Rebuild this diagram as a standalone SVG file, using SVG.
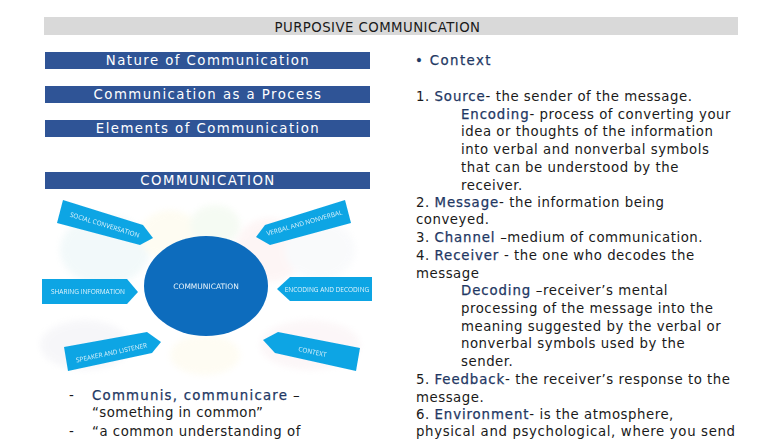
<svg xmlns="http://www.w3.org/2000/svg" width="784" height="441" viewBox="0 0 784 441">
<style>
text{font-family:"DejaVu Sans",Verdana,sans-serif;font-size:13.3px;fill:#1a1a1a;letter-spacing:.53px}
.b{fill:#2f5496}
.h{fill:#fff;text-anchor:middle;letter-spacing:1.45px}
.hl{fill:#1f3864;stroke:#1f3864;stroke-width:.25;letter-spacing:.9px}
.a{fill:#0ea5e4}
.l{font-size:6.5px;fill:#dff3fb;text-anchor:middle;font-family:"Open Sans",sans-serif;letter-spacing:0}
</style>
<defs><filter id="s" x="-10%" y="-10%" width="120%" height="120%"><feGaussianBlur stdDeviation="0.6"/></filter><filter id="bl" x="-20%" y="-20%" width="140%" height="140%"><feGaussianBlur stdDeviation="3"/></filter></defs>
<rect width="784" height="441" fill="#fff"/>
<g id="title"><rect x="44" y="17" width="694" height="18" fill="#d9d9d9"/><text x="377.500" y="32" text-anchor="middle" style="letter-spacing:.45px">PURPOSIVE COMMUNICATION</text></g>
<g id="bar-nature"><rect class="b" x="45" y="52" width="325" height="17"/><text class="h" x="208" y="65">Nature of Communication</text></g>
<g id="bar-process"><rect class="b" x="45" y="86" width="325" height="17"/><text class="h" x="208" y="99">Communication as a Process</text></g>
<g id="bar-elements"><rect class="b" x="45" y="120" width="325" height="17"/><text class="h" x="208" y="133">Elements of Communication</text></g>
<g id="bar-communication"><rect class="b" x="45" y="172" width="325" height="17"/><text class="h" x="208" y="185" style="letter-spacing:1.5px">COMMUNICATION</text></g>
<g id="picture">
<g filter="url(#bl)" opacity=".32">
<ellipse cx="105" cy="250" rx="45" ry="35" fill="#d8eef0"/>
<ellipse cx="170" cy="235" rx="30" ry="25" fill="#fdf7d8"/>
<ellipse cx="215" cy="225" rx="25" ry="20" fill="#e2f3dc"/>
<ellipse cx="270" cy="250" rx="35" ry="32" fill="#fbe3e3"/>
<ellipse cx="320" cy="250" rx="35" ry="30" fill="#eef1f5"/>
<ellipse cx="85" cy="345" rx="45" ry="25" fill="#e6e6ee"/>
<ellipse cx="310" cy="345" rx="50" ry="25" fill="#f6e6ea"/>
<ellipse cx="205" cy="355" rx="35" ry="20" fill="#fdf6da"/>
</g>
<g filter="url(#s)">
<polygon class="a" points="63,200 143,225 153,238 140,245 57,223"/>
<polygon class="a" points="345,200 351,223 270,245 256,237 265,225"/>
<polygon class="a" points="42,279 127,279 138,292 127,304 42,304"/>
<polygon class="a" points="372,277 372,301 290,301 277,289 290,277"/>
<polygon class="a" points="64,347 147,332 161,342 152,353 68,371"/>
<polygon class="a" points="278,332 360,348 356,371 275,353 263,340"/>
<ellipse cx="206" cy="286" rx="62" ry="50" fill="#0b6cbd"/>
<text class="l" transform="translate(104,227) rotate(17)">SOCIAL CONVERSATION</text>
<text class="l" transform="translate(305,225) rotate(-16)">VERBAL AND NONVERBAL</text>
<text class="l" x="88" y="294">SHARING INFORMATION</text>
<text class="l" x="327" y="292">ENCODING AND DECODING</text>
<text class="l" transform="translate(112,355) rotate(-12)">SPEAKER AND LISTENER</text>
<text class="l" transform="translate(312,354) rotate(12)">CONTEXT</text>
<text x="206" y="289" text-anchor="middle" style="font-size:7.5px;fill:#eaf4fb;letter-spacing:0">COMMUNICATION</text>
</g>
</g>
<g id="left-notes">
<text x="69" y="400">-</text><text x="92" y="400"><tspan class="hl" style="letter-spacing:1.25px">Communis, communicare</tspan> –</text>
<text x="92" y="417" style="letter-spacing:.45px">“something in common”</text>
<text x="69" y="436">-</text><text x="92" y="436">“a common understanding of</text>
</g>
<g id="right-text">
<text x="415" y="65" class="hl" style="letter-spacing:1.4px">• Context</text>
<text x="416" y="101">1. <tspan class="hl">Source</tspan>- the sender of the message.</text>
<text x="461" y="119"><tspan class="hl">Encoding</tspan>- process of converting your</text>
<text x="461" y="136">idea or thoughts of the information</text>
<text x="461" y="154">into verbal and nonverbal symbols</text>
<text x="461" y="172">that can be understood by the</text>
<text x="461" y="190">receiver.</text>
<text x="416" y="207">2. <tspan class="hl">Message</tspan>- the information being</text>
<text x="416" y="224">conveyed.</text>
<text x="416" y="242">3. <tspan class="hl">Channel</tspan> –medium of communication.</text>
<text x="416" y="260">4. <tspan class="hl">Receiver</tspan> - the one who decodes the</text>
<text x="416" y="278">message</text>
<text x="461" y="295"><tspan class="hl">Decoding</tspan> –receiver’s mental</text>
<text x="461" y="313">processing of the message into the</text>
<text x="461" y="331">meaning suggested by the verbal or</text>
<text x="461" y="348">nonverbal symbols used by the</text>
<text x="461" y="366">sender.</text>
<text x="416" y="384">5. <tspan class="hl">Feedback</tspan>- the receiver’s response to the</text>
<text x="416" y="402">message.</text>
<text x="416" y="419">6. <tspan class="hl">Environment</tspan>- is the atmosphere,</text>
<text x="416" y="436" style="letter-spacing:.65px">physical and psychological, where you send</text>
</g>
</svg>
